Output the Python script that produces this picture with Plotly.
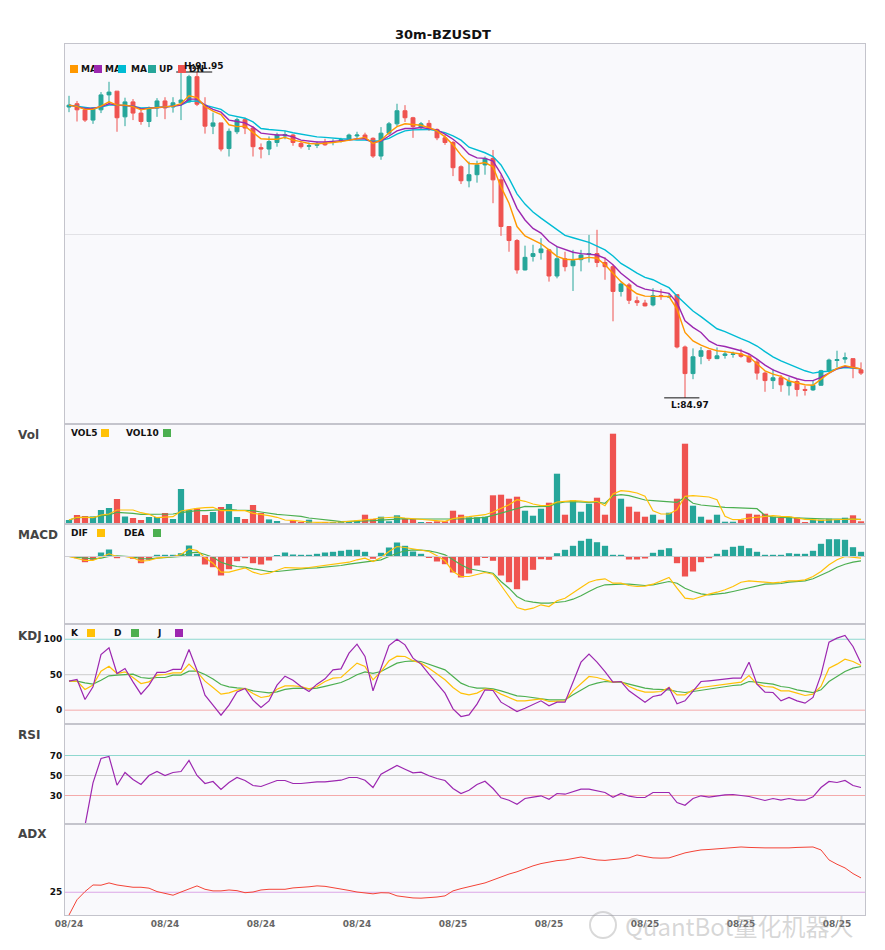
import plotly.graph_objects as go
from plotly.subplots import make_subplots

# 30m candles, 08/24 -> 08/25
tick_pos = [0, 12, 24, 36, 48, 60, 72, 84, 96]
tick_text = ["08/24", "08/24", "08/24", "08/24", "08/25", "08/25", "08/25", "08/25", "08/25"]

open_ = [91.20, 91.27, 91.14, 90.92, 91.14, 91.46, 91.54, 90.99, 91.31, 91.07,
         90.89, 91.18, 91.33, 91.20, 91.29, 91.31, 91.85, 91.24, 90.79, 90.86,
         90.31, 90.67, 90.93, 90.75, 90.33, 90.30, 90.44, 90.58, 90.60, 90.42,
         90.36, 90.38, 90.44, 90.44, 90.48, 90.50, 90.58, 90.60, 90.53, 90.15,
         90.64, 90.84, 91.12, 90.97, 90.77, 90.85, 90.72, 90.54, 90.44, 89.92,
         89.62, 89.75, 89.96, 90.10, 89.64, 88.64, 88.34, 87.71, 88.00, 88.08,
         88.14, 87.58, 87.95, 87.80, 87.93, 88.04, 88.06, 87.87, 87.78, 87.25,
         87.39, 87.05, 87.00, 86.96, 87.16, 87.13, 87.18, 86.06, 85.49, 85.86,
         85.98, 85.81, 85.88, 85.90, 85.91, 85.86, 85.74, 85.50, 85.34, 85.40,
         85.23, 85.32, 85.15, 85.14, 85.24, 85.55, 85.77, 85.80, 85.81, 85.57]
high = [91.44, 91.33, 91.18, 91.20, 91.52, 91.74, 91.54, 91.40, 91.37, 91.15,
        91.21, 91.39, 91.41, 91.41, 91.93, 91.89, 91.95, 91.41, 91.08, 90.86,
        90.74, 90.97, 90.97, 90.79, 90.42, 90.57, 90.65, 90.69, 90.62, 90.45,
        90.44, 90.46, 90.52, 90.51, 90.54, 90.63, 90.67, 90.65, 90.55, 90.77,
        90.88, 91.27, 91.24, 90.99, 90.88, 90.92, 90.74, 90.60, 90.47, 89.95,
        90.03, 90.05, 90.14, 90.28, 89.75, 88.65, 88.37, 88.23, 88.25, 88.39,
        88.16, 88.21, 88.10, 88.14, 88.14, 88.46, 88.57, 87.98, 87.82, 87.44,
        87.43, 87.14, 87.07, 87.32, 87.30, 87.20, 87.19, 86.09, 86.03, 86.06,
        86.00, 86.05, 85.98, 85.96, 86.02, 85.91, 85.80, 85.53, 85.59, 85.46,
        85.41, 85.37, 85.23, 85.34, 85.57, 85.81, 85.98, 85.94, 85.81, 85.73]
low = [91.09, 90.89, 90.88, 90.84, 91.07, 91.27, 90.67, 90.79, 90.92, 90.82,
       90.77, 90.99, 90.94, 91.08, 90.92, 91.29, 91.22, 90.63, 90.62, 90.25,
       90.14, 90.62, 90.62, 90.14, 90.10, 90.17, 90.35, 90.51, 90.37, 90.31,
       90.28, 90.32, 90.37, 90.38, 90.44, 90.49, 90.52, 90.51, 90.11, 90.07,
       90.60, 90.79, 90.88, 90.54, 90.72, 90.69, 90.49, 90.39, 89.72, 89.55,
       89.48, 89.58, 89.75, 89.14, 88.44, 88.10, 87.63, 87.70, 87.89, 87.93,
       87.46, 87.53, 87.68, 87.26, 87.68, 87.87, 87.77, 87.50, 86.61, 87.14,
       86.98, 86.94, 86.93, 86.93, 87.07, 87.11, 86.03, 84.97, 85.37, 85.69,
       85.76, 85.80, 85.81, 85.83, 85.83, 85.72, 85.36, 85.10, 85.16, 85.10,
       85.02, 85.00, 85.02, 85.12, 85.23, 85.53, 85.62, 85.71, 85.39, 85.46]
close = [91.24, 91.14, 90.92, 91.18, 91.46, 91.52, 90.97, 91.31, 91.07, 90.89,
         91.18, 91.33, 91.18, 91.29, 91.35, 91.85, 91.26, 90.79, 90.86, 90.30,
         90.68, 90.93, 90.75, 90.35, 90.30, 90.46, 90.60, 90.61, 90.44, 90.35,
         90.37, 90.40, 90.39, 90.46, 90.50, 90.60, 90.60, 90.53, 90.15, 90.64,
         90.84, 91.12, 90.97, 90.78, 90.84, 90.72, 90.54, 90.44, 89.90, 89.62,
         89.75, 89.96, 90.10, 89.64, 88.64, 88.34, 87.71, 87.98, 88.06, 88.16,
         87.58, 87.95, 87.78, 87.91, 88.03, 88.06, 87.87, 87.78, 87.25, 87.41,
         87.06, 87.01, 86.94, 87.16, 87.14, 87.14, 86.06, 85.49, 85.85, 85.98,
         85.81, 85.87, 85.91, 85.91, 85.86, 85.74, 85.50, 85.34, 85.40, 85.25,
         85.32, 85.15, 85.13, 85.24, 85.55, 85.78, 85.79, 85.83, 85.62, 85.50]

ma5 = [91.24, 91.21, 91.15, 91.15, 91.22, 91.31, 91.24, 91.24, 91.21, 91.14,
       91.17, 91.19, 91.20, 91.22, 91.27, 91.44, 91.40, 91.21, 91.11, 91.04,
       90.82, 90.78, 90.79, 90.65, 90.52, 90.51, 90.51, 90.55, 90.49, 90.46,
       90.42, 90.41, 90.42, 90.44, 90.46, 90.49, 90.52, 90.55, 90.42, 90.49,
       90.65, 90.78, 90.84, 90.83, 90.81, 90.76, 90.69, 90.56, 90.39, 90.17,
       89.99, 89.98, 90.01, 89.92, 89.49, 89.14, 88.64, 88.44, 88.35, 88.27,
       88.14, 88.00, 87.94, 87.93, 87.95, 87.98, 87.96, 87.82, 87.64, 87.46,
       87.32, 87.20, 87.15, 87.15, 87.15, 87.14, 86.87, 86.37, 86.19, 86.10,
       86.03, 85.98, 85.96, 85.93, 85.91, 85.85, 85.71, 85.55, 85.48, 85.43,
       85.33, 85.29, 85.25, 85.24, 85.37, 85.50, 85.60, 85.66, 85.62, 85.59]
ma10 = [91.24, 91.21, 91.17, 91.17, 91.21, 91.27, 91.24, 91.23, 91.22, 91.16,
        91.17, 91.19, 91.20, 91.22, 91.24, 91.37, 91.37, 91.24, 91.15, 91.09,
        90.92, 90.89, 90.86, 90.77, 90.64, 90.62, 90.60, 90.60, 90.56, 90.49,
        90.47, 90.45, 90.45, 90.46, 90.48, 90.49, 90.52, 90.52, 90.44, 90.47,
        90.58, 90.69, 90.74, 90.74, 90.76, 90.74, 90.71, 90.62, 90.51, 90.37,
        90.19, 90.11, 90.10, 90.04, 89.77, 89.42, 89.03, 88.78, 88.60, 88.50,
        88.32, 88.21, 88.15, 88.09, 88.06, 88.05, 88.03, 87.96, 87.82, 87.64,
        87.50, 87.37, 87.30, 87.27, 87.25, 87.21, 87.01, 86.62, 86.48, 86.37,
        86.19, 86.10, 86.07, 86.03, 85.98, 85.91, 85.80, 85.67, 85.57, 85.50,
        85.44, 85.38, 85.34, 85.34, 85.41, 85.50, 85.59, 85.64, 85.62, 85.59]
ma20 = [91.24, 91.22, 91.19, 91.17, 91.20, 91.24, 91.24, 91.23, 91.22, 91.18,
        91.18, 91.19, 91.20, 91.22, 91.24, 91.32, 91.33, 91.24, 91.19, 91.15,
        91.03, 90.99, 90.96, 90.88, 90.74, 90.72, 90.71, 90.69, 90.65, 90.62,
        90.59, 90.56, 90.55, 90.53, 90.52, 90.51, 90.49, 90.49, 90.47, 90.48,
        90.53, 90.62, 90.69, 90.71, 90.72, 90.72, 90.69, 90.65, 90.58, 90.49,
        90.34, 90.28, 90.22, 90.14, 89.96, 89.67, 89.34, 89.12, 88.95, 88.82,
        88.69, 88.56, 88.45, 88.40, 88.35, 88.30, 88.22, 88.14, 88.01, 87.85,
        87.75, 87.64, 87.55, 87.50, 87.41, 87.33, 87.15, 86.98, 86.83, 86.71,
        86.58, 86.45, 86.39, 86.31, 86.24, 86.17, 86.08, 85.96, 85.85, 85.76,
        85.69, 85.62, 85.55, 85.50, 85.53, 85.54, 85.59, 85.62, 85.61, 85.59]

vol = [40, 90, 80, 75, 140, 160, 250, 75, 60, 40,
       70, 70, 110, 50, 350, 140, 155, 90, 120, 170,
       200, 70, 50, 190, 110, 46, 30, 10, 40, 13,
       43, 7, 17, 17, 17, 27, 33, 93, 50, 73,
       27, 87, 50, 50, 17, 17, 27, 27, 133, 93,
       67, 67, 73, 287, 293, 253, 273, 133, 83, 153,
       213, 503, 93, 237, 123, 203, 263, 93, 903, 253,
       173, 123, 73, 93, 43, 113, 253, 803, 183, 73,
       43, 93, 23, 23, 43, 103, 93, 103, 73, 63,
       73, 63, 17, 43, 43, 53, 43, 63, 87, 27]
vol5 = [40, 67, 67, 63, 90, 100, 140, 140, 140, 113,
        97, 63, 67, 73, 130, 147, 157, 163, 167, 133,
        133, 133, 133, 107, 97, 83, 67, 40, 37, 27,
        20, 17, 17, 17, 20, 27, 33, 43, 50, 60,
        67, 70, 60, 53, 50, 43, 33, 27, 53, 67,
        73, 83, 93, 120, 153, 193, 243, 227, 200, 183,
        187, 220, 227, 233, 230, 220, 227, 183, 300, 333,
        327, 310, 277, 133, 100, 100, 143, 277, 283, 280,
        270, 243, 77, 43, 47, 60, 70, 80, 83, 77,
        73, 60, 47, 43, 37, 40, 43, 43, 50, 43]
vol10 = [40, 63, 67, 67, 80, 90, 117, 113, 107, 97,
         97, 97, 97, 100, 113, 123, 133, 133, 140, 147,
         147, 140, 140, 133, 120, 107, 97, 90, 83, 77,
         60, 53, 47, 33, 23, 23, 27, 30, 33, 37,
         43, 50, 53, 50, 50, 47, 47, 43, 43, 50,
         53, 60, 67, 87, 110, 133, 160, 177, 173, 173,
         177, 207, 220, 223, 217, 217, 220, 207, 283, 293,
         283, 260, 240, 233, 227, 217, 217, 267, 207, 190,
         180, 177, 167, 163, 160, 160, 153, 85, 70, 67,
         63, 60, 57, 53, 50, 50, 50, 47, 47, 47]

macd_hist = [0, -0.017, -0.057, -0.033, 0.04, 0.07, -0.017, 0.003, -0.023, -0.067,
             -0.033, 0.017, 0.017, 0.017, 0.033, 0.11, 0.027, -0.08, -0.107, -0.19,
             -0.127, -0.047, -0.017, -0.067, -0.08, -0.04, 0.01, 0.04, 0.02, 0.017,
             0.017, 0.027, 0.04, 0.047, 0.057, 0.067, 0.067, 0.047, -0.023, 0.037,
             0.09, 0.14, 0.107, 0.05, 0.027, -0.01, -0.05, -0.077, -0.16, -0.21,
             -0.17, -0.09, -0.01, -0.043, -0.19, -0.257, -0.327, -0.24, -0.133, -0.027,
             -0.033, 0.033, 0.067, 0.107, 0.157, 0.177, 0.143, 0.107, 0.017, 0.017,
             -0.03, -0.03, -0.02, 0.037, 0.067, 0.083, -0.067, -0.2, -0.15, -0.057,
             -0.017, 0.027, 0.067, 0.097, 0.107, 0.083, 0.047, 0.017, 0.017, 0.017,
             0.033, 0.027, 0.027, 0.057, 0.127, 0.173, 0.173, 0.167, 0.093, 0.047]
dif = [0, -0.017, -0.04, -0.04, -0.007, 0.027, 0, 0, -0.013, -0.047,
       -0.04, -0.017, -0.007, 0, 0.02, 0.077, 0.06, -0.013, -0.067, -0.157,
       -0.157, -0.133, -0.113, -0.157, -0.18, -0.167, -0.14, -0.11, -0.113, -0.117,
       -0.11, -0.1, -0.09, -0.083, -0.07, -0.057, -0.033, -0.017, -0.05, -0.01,
       0.05, 0.1, 0.09, 0.077, 0.067, 0.05, 0.007, -0.043, -0.15, -0.2,
       -0.2, -0.177, -0.16, -0.177, -0.283, -0.4, -0.51, -0.533, -0.517, -0.483,
       -0.5, -0.443, -0.417, -0.367, -0.31, -0.257, -0.233, -0.223, -0.267, -0.267,
       -0.29, -0.3, -0.297, -0.277, -0.243, -0.21, -0.317, -0.417, -0.427, -0.4,
       -0.377, -0.357, -0.333, -0.3, -0.257, -0.243, -0.25, -0.26, -0.263, -0.257,
       -0.243, -0.243, -0.233, -0.2, -0.15, -0.083, -0.033, 0, -0.01, -0.017]
dea = [0, -0.007, -0.017, -0.023, -0.017, 0, 0.007, 0.003, -0.003, -0.02,
       -0.023, -0.017, -0.013, -0.01, 0, 0.033, 0.043, 0.02, -0.007, -0.057,
       -0.083, -0.1, -0.107, -0.123, -0.14, -0.15, -0.15, -0.14, -0.13, -0.123,
       -0.117, -0.113, -0.107, -0.1, -0.09, -0.077, -0.067, -0.05, -0.043, -0.033,
       0, 0.033, 0.057, 0.067, 0.063, 0.057, 0.04, 0.017, -0.033, -0.083,
       -0.123, -0.14, -0.15, -0.167, -0.25, -0.317, -0.4, -0.443, -0.457, -0.467,
       -0.467, -0.46, -0.45, -0.427, -0.393, -0.35, -0.31, -0.283, -0.277, -0.277,
       -0.277, -0.283, -0.29, -0.283, -0.27, -0.25, -0.267, -0.317, -0.35, -0.373,
       -0.383, -0.377, -0.367, -0.35, -0.33, -0.31, -0.29, -0.277, -0.273, -0.27,
       -0.257, -0.25, -0.243, -0.223, -0.19, -0.15, -0.107, -0.077, -0.057, -0.043]

k = [41, 41, 29.2, 35.3, 55, 62, 51.7, 54, 46.1, 37.6,
     39.9, 49.4, 50.3, 52.6, 52.6, 64.9, 54, 40.9, 32, 22.6,
     24.4, 28.2, 30.6, 23.5, 17.9, 19.7, 29.6, 34.3, 34.3, 33.4,
     30.1, 33.4, 40.4, 45.1, 46.1, 56.9, 66.3, 61.6, 42.8, 54.5,
     69.6, 76.1, 75.7, 69.6, 66.3, 59.2, 50.8, 42.8, 32, 24,
     21.6, 24, 30.1, 28.7, 22.6, 17.9, 13.2, 13.2, 14.6, 16,
     12.2, 13.2, 13.2, 27.3, 38.1, 47.5, 46.1, 42.8, 39.5, 40.4,
     33.4, 28.7, 25.4, 25.4, 26.3, 32, 21.6, 21.6, 28.7, 32,
     33.4, 35.7, 37.1, 38.1, 39.5, 48.9, 36.7, 33.4, 32.4, 27.3,
     27.3, 24, 20.7, 22.6, 33.4, 59.2, 64.9, 71.9, 68.6, 63]
d = [41, 41, 38.5, 36.7, 42.3, 48.4, 49.4, 50.3, 50.8, 46.1,
     44.7, 46.1, 46.1, 49.4, 49.4, 55, 55, 50.3, 44.1, 36.2,
     32.9, 31.5, 30.6, 27.2, 25.8, 24.4, 25.8, 29.2, 30.6, 31,
     30.1, 31, 33.5, 36, 39, 44, 50, 54, 52, 54.5,
     60.2, 66.3, 68.6, 69.6, 68.6, 64.9, 61.6, 56.9, 47.5, 38.1,
     33.4, 31, 31, 30.1, 27.3, 24, 20.2, 19.3, 17.9, 16.9,
     14.6, 14.6, 14.6, 21.6, 28.7, 34.8, 38.1, 40.4, 39.5, 39.5,
     36.7, 33.4, 31, 29.6, 28.7, 28.7, 26.3, 24.9, 26.3, 28.2,
     30.1, 32, 33.4, 34.8, 35.7, 40.4, 39.5, 38.1, 36.7, 33.4,
     32, 28.7, 26.3, 24.9, 28.7, 40.4, 47.5, 54.5, 59.2, 61.6]
j = [41, 43.3, 15.1, 32.9, 78.5, 87.9, 51.7, 58.8, 39.9, 22.6,
     35.3, 53.2, 53.2, 57.4, 57.4, 85.6, 56.4, 21.2, 7.1, -7.1,
     7.1, 25.8, 30.6, 14.1, 3.8, 13.1, 35.3, 48, 42.3, 33.4,
     26.3, 36.7, 44.2, 56.9, 58.3, 80.4, 93.1, 75.7, 27.3, 59.2,
     91.2, 100.1, 92.1, 73.3, 64.9, 50.8, 36.7, 24, 1.9, -8.9,
     -6.6, 8.5, 28.7, 27.7, 11.3, 5.2, -1.9, 2.8, 7.5, 13.2,
     6.1, 11.3, 11.3, 40.4, 67.7, 79, 67.7, 54.5, 39.5, 40.4,
     27.3, 19.3, 11.3, 19.3, 21.6, 32, 8.9, 13.2, 27.3, 40.4,
     41.4, 42.8, 44.2, 45.1, 45.1, 67.7, 36.7, 25.4, 24.9, 13.2,
     17.9, 13.2, 9.9, 17.9, 49.8, 95.9, 101.5, 105.3, 89.8, 66.3]

rsi = [None, None, 0, 42.7, 67, 69, 40.3, 53, 46, 41,
       50, 54, 50, 53, 54, 65, 50, 42, 44, 36,
       43, 48, 45, 40, 39, 42, 45, 45, 42, 42,
       43, 43.7, 43.7, 44.7, 45.3, 48, 48, 45.3, 38, 51.3,
       55.3, 60, 56.3, 52.7, 53.3, 49.7, 47, 45, 37, 32,
       35.3, 41, 44.3, 37, 27.7, 25.3, 21.3, 27, 28.3, 29.7,
       26.3, 32, 31.3, 33.7, 36.3, 36.3, 34.3, 33, 28.3, 32,
       29.3, 28, 28, 33, 33, 33, 23, 20.3, 27, 29.7,
       28.3, 29.7, 30.7, 31, 30.3, 29, 27, 25, 27, 25.3,
       27, 25.3, 25.3, 28.7, 38, 44, 43, 45, 40, 38]

adx = [15, 21.7, 25.3, 28.2, 28.1, 29.1, 28.2, 27.8, 27.2, 27.2,
       26.8, 25.3, 24.6, 23.7, 25.1, 26.6, 27.8, 26.3, 25.6, 25.6,
       26, 25.7, 24.8, 25.1, 26, 26.3, 26.3, 26.3, 26.9, 27.0,
       27.4, 27.8, 27.6, 27.0, 26.5, 25.8, 25.1, 24.7, 24.3, 24.8,
       24.7, 23.4, 22.9, 22.5, 22.4, 22.5, 22.9, 23.4, 25.6, 26.6,
       27.4, 28.3, 29.1, 30.4, 31.8, 33.0, 34.0, 35.4, 36.6, 37.6,
       38.4, 38.9, 39.2, 39.8, 40.5, 39.8, 39.2, 39.0, 39.2, 39.7,
       40.1, 41.4, 40.7, 40.1, 40.0, 40.1, 41.2, 42.3, 43.0, 43.6,
       43.8, 44.0, 44.3, 44.6, 44.9, 44.7, 44.5, 44.5, 44.5, 44.4,
       44.5, 44.7, 44.9, 44.9, 43.6, 39.2, 37.3, 35.7, 33.2, 31.3]

n = len(close)
x = list(range(n))

UP_C, DN_C = "#26a69a", "#ef5350"
C_MA5, C_MA10, C_MA20 = "#ff9800", "#9c27b0", "#00bcd4"
C_Y, C_G, C_P = "#ffc107", "#4caf50", "#9c27b0"
BORDER = "#c4c4cc"
FONT = "DejaVu Sans"

up = [c >= o for o, c in zip(open_, close)]
vol_colors = [UP_C if u else DN_C for u in up]
hist_colors = [UP_C if v >= 0 else DN_C for v in macd_hist]

fig = make_subplots(rows=6, cols=1, shared_xaxes=True, vertical_spacing=0,
                    row_heights=[380, 100, 100, 100, 100, 91])

# price
fig.add_trace(go.Candlestick(
    x=x, open=open_, high=high, low=low, close=close, whiskerwidth=0,
    increasing=dict(line=dict(color=UP_C, width=1), fillcolor=UP_C),
    decreasing=dict(line=dict(color=DN_C, width=1), fillcolor=DN_C),
    showlegend=False), row=1, col=1)
for ys, col in [(ma20, C_MA20), (ma10, C_MA10), (ma5, C_MA5)]:
    fig.add_trace(go.Scatter(x=x, y=ys, mode="lines", line=dict(color=col, width=1.4),
                             showlegend=False), row=1, col=1)

# volume
fig.add_trace(go.Bar(x=x, y=vol, marker=dict(color=vol_colors, line=dict(width=0)),
                     showlegend=False), row=2, col=1)
fig.add_trace(go.Scatter(x=x, y=vol10, mode="lines", line=dict(color=C_G, width=1.2),
                         showlegend=False), row=2, col=1)
fig.add_trace(go.Scatter(x=x, y=vol5, mode="lines", line=dict(color=C_Y, width=1.2),
                         showlegend=False), row=2, col=1)

# macd
fig.add_trace(go.Bar(x=x, y=macd_hist, marker=dict(color=hist_colors, line=dict(width=0)),
                     showlegend=False), row=3, col=1)
fig.add_trace(go.Scatter(x=x, y=dea, mode="lines", line=dict(color=C_G, width=1.2),
                         showlegend=False), row=3, col=1)
fig.add_trace(go.Scatter(x=x, y=dif, mode="lines", line=dict(color=C_Y, width=1.2),
                         showlegend=False), row=3, col=1)

# kdj
for ys, col in [(d, C_G), (k, C_Y), (j, C_P)]:
    fig.add_trace(go.Scatter(x=x, y=ys, mode="lines", line=dict(color=col, width=1.2),
                             showlegend=False), row=4, col=1)

# rsi / adx
fig.add_trace(go.Scatter(x=x, y=rsi, mode="lines", line=dict(color=C_P, width=1.2),
                         showlegend=False), row=5, col=1)
fig.add_trace(go.Scatter(x=x, y=adx, mode="lines", line=dict(color="#f44336", width=1),
                         showlegend=False), row=6, col=1)

# reference lines
fig.add_hline(y=0, line=dict(color="#cfcfd4", width=1), row=3, col=1)
for yv, col, row in [(100, "#8fd8cf", 4), (50, "#cccccc", 4), (0, "#f4aaaa", 4),
                     (70, "#8fd8cf", 5), (50, "#cccccc", 5), (30, "#f4aaaa", 5),
                     (25, "#dba6e6", 6)]:
    fig.add_hline(y=yv, line=dict(color=col, width=1), layer="below", row=row, col=1)

fig.update_xaxes(range=[-0.5, n - 0.5], showgrid=False, zeroline=False, showline=True,
                 mirror=True, linecolor=BORDER, ticks="", rangeslider_visible=False)
fig.update_xaxes(tickvals=tick_pos, ticktext=tick_text,
                 tickfont=dict(size=9, color="#666666", weight="bold"), row=6, col=1)
fig.update_yaxes(showgrid=False, zeroline=False, showline=True, mirror=True,
                 linecolor=BORDER, ticks="", tickfont=dict(size=9, color="#111111", weight="bold"))
fig.update_yaxes(range=[84.41, 92.55], tickvals=[88.48], showticklabels=False,
                 showgrid=True, gridcolor="#e2e2e6", row=1, col=1)
fig.update_yaxes(range=[0, 1000], showticklabels=False, row=2, col=1)
fig.update_yaxes(range=[-0.675, 0.325], showticklabels=False, row=3, col=1)
fig.update_yaxes(range=[-19.5, 121.5], tickvals=[0, 50, 100], row=4, col=1)
fig.update_yaxes(range=[1.5, 101.5], tickvals=[30, 50, 70], row=5, col=1)
fig.update_yaxes(range=[15, 55], tickvals=[25], row=6, col=1)

# the page body adds an 8px offset; size the figure so the plot lands at 65..865 / 44..915
OFF = 8
L, R, T, B, W, H = 57, 12, 36, 27, 869, 934
PW, PH = W - L - R, H - T - B


def px(xp, yp):
    return (xp - OFF - L) / PW, (H - B - (yp - OFF)) / PH


def box(xp, yp, color):
    bx, by = px(xp, yp)
    fig.add_annotation(xref="paper", yref="paper", x=bx, y=by, text=" ", showarrow=False,
                       width=8, height=8, bgcolor=color, borderpad=0, borderwidth=0,
                       xanchor="left", yanchor="middle", font=dict(size=1))


def label(xp, yp, txt, size=9, color="#111111"):
    bx, by = px(xp, yp)
    fig.add_annotation(xref="paper", yref="paper", x=bx, y=by, text=f"<b>{txt}</b>",
                       showarrow=False, xanchor="left", yanchor="middle", borderpad=0,
                       font=dict(size=size, color=color))


# price legend
for bx_, tx_, txt, col in [(70, 80, "MA", C_MA5), (94, 104, "MA", C_MA10),
                           (118, 130, "MA", C_MA20), (148, 158, "UP", UP_C),
                           (178, 188, "DN", DN_C)]:
    box(bx_, 68.8, col)
    label(tx_, 68.8, txt)

label(70, 433.3, "VOL5"); box(101, 433.3, C_Y)
label(125, 433.3, "VOL10"); box(163, 433.3, C_G)
label(70, 533, "DIF"); box(97, 533, C_Y)
label(123, 533, "DEA"); box(153, 533, C_G)
label(70, 633, "K"); box(87, 633, C_Y)
label(113, 633, "D"); box(131, 633, C_G)
label(156, 633, "J"); box(175, 633, C_P)

for txt, yp in [("Vol", 435), ("MACD", 535), ("KDJ", 636), ("RSI", 735), ("ADX", 834)]:
    label(17, yp, txt, size=12, color="#444444")

# high / low markers
hi_v = max(high); hi_i = high.index(hi_v)
lo_v = min(low); lo_i = low.index(lo_v)
fig.add_shape(type="line", xref="x", yref="y", x0=hi_i - 2.6, x1=hi_i + 1.9, y0=hi_v, y1=hi_v,
              line=dict(color="#111111", width=1))
fig.add_annotation(xref="x", yref="y", x=hi_i + 0.9, y=hi_v, text=f"<b>H:{hi_v:.2f}</b>",
                   showarrow=False, yanchor="bottom", borderpad=0,
                   font=dict(size=9, color="#111111"))
fig.add_shape(type="line", xref="x", yref="y", x0=lo_i - 2.6, x1=lo_i + 1.8, y0=lo_v, y1=lo_v,
              line=dict(color="#111111", width=1))
fig.add_annotation(xref="x", yref="y", x=lo_i + 0.6, y=lo_v, text=f"<b>L:{lo_v:.2f}</b>",
                   showarrow=False, yanchor="top", borderpad=0, yshift=-1,
                   font=dict(size=9, color="#111111"))

# watermark
c0x, c0y = px(590, 938)
c1x, c1y = px(616, 912)
fig.add_shape(type="circle", xref="paper", yref="paper", x0=c0x, y0=c0y, x1=c1x, y1=c1y,
              line=dict(color="rgba(160,160,160,0.4)", width=2))
wx, wy = px(623, 925)
fig.add_annotation(xref="paper", yref="paper", x=wx, y=wy, text="QuantBot量化机器人",
                   showarrow=False, xanchor="left", yanchor="middle",
                   font=dict(family="Noto Sans CJK SC", size=24, color="rgba(150,150,150,0.38)"))

fig.update_layout(
    width=W, height=H, margin=dict(l=L, r=R, t=T, b=B),
    paper_bgcolor="white", plot_bgcolor="#f9f9fc",
    font=dict(family=FONT, size=9, color="#111111"),
    title=dict(text="<b>30m-BZUSDT</b>", x=(443 - OFF) / W, xanchor="center",
               y=1 - (34 - OFF) / H, yanchor="middle", font=dict(size=13, color="#111111")),
    bargap=0.22, showlegend=False, hovermode=False,
)

fig.write_html("out.html")
